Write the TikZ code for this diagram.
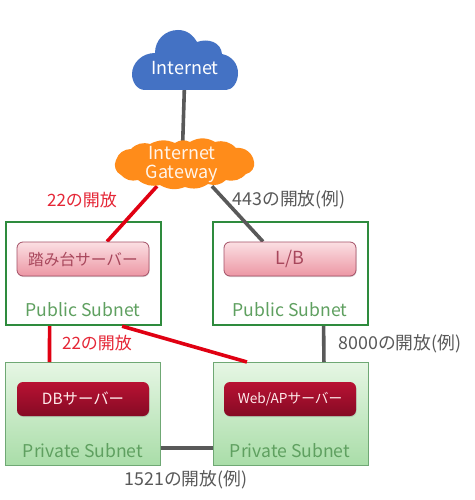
\documentclass[tikz,border=0pt]{standalone}
\usepackage{fontspec}
\setmainfont{Noto Sans CJK JP}
\usetikzlibrary{shadows,calc}
\pgfdeclarelayer{sub}
\pgfdeclarelayer{conn}
\pgfsetlayers{sub,conn,main}
\definecolor{gline}{HTML}{595959}
\definecolor{rline}{HTML}{E00012}
\definecolor{gborder}{HTML}{2E8B3D}
\definecolor{gtext}{HTML}{5FA060}
\definecolor{cloudblue}{HTML}{4472C4}
\definecolor{cloudorange}{HTML}{FF8C1A}
\definecolor{privtop}{HTML}{E6F6E4}
\definecolor{privbot}{HTML}{A9DDA8}
\definecolor{privline}{HTML}{6FA874}
\definecolor{lighttop}{HTML}{FBDFE3}
\definecolor{lightbot}{HTML}{EC97A4}
\definecolor{lightline}{HTML}{A45066}
\definecolor{lighttext}{HTML}{A8475C}
\definecolor{darktop}{HTML}{B81233}
\definecolor{darkbot}{HTML}{860A24}
\tikzset{
  txt/.style={font=\fontsize{#1}{#1}\selectfont,inner sep=0pt,align=center},
  txt/.default=17.6,
  pubnet/.style={draw=gborder,line width=2.2pt,fill=white,minimum width=155pt,minimum height=103pt,inner sep=0pt},
  privnet/.style={draw=privline,line width=.9pt,top color=privtop,bottom color=privbot,minimum width=155pt,minimum height=103pt,inner sep=0pt,drop shadow={shadow xshift=.8pt,shadow yshift=-1pt,opacity=.35}},
  srvlight/.style={draw=lightline,line width=.8pt,rounded corners=6pt,top color=lighttop,bottom color=lightbot,minimum width=132pt,minimum height=34pt,inner sep=0pt,text=lighttext,font=\fontsize{15.7}{16}\selectfont,drop shadow={shadow xshift=.5pt,shadow yshift=-1pt,opacity=.3}},
  srvdark/.style={rounded corners=6pt,top color=darktop,bottom color=darkbot,minimum width=132pt,minimum height=34pt,inner sep=0pt,text=white!92!red,font=\fontsize{15.4}{16}\selectfont,drop shadow={shadow xshift=.5pt,shadow yshift=-1pt,opacity=.3}},
  redconn/.style={draw=rline,line width=3.6pt},
  grayconn/.style={draw=gline,line width=3.6pt},
  redlabel/.style={txt=17,text=rline!85!white},
  graylabel/.style={txt=17.8,text=gline},
  sublabel/.style={txt=17.6,text=gtext},
}
\begin{document}
\begin{tikzpicture}[x=1pt,y=-1pt]
\useasboundingbox (0,0) rectangle (474,500);
\begin{pgfonlayer}{sub}
\fill[white] (0,0) rectangle (474,500);
\node[pubnet,anchor=north west] (pubL) at (4.5,221) {};
\node[pubnet,anchor=north west] (pubR) at (212,221) {};
\node[privnet,anchor=north west] (privL) at (5,362) {};
\node[privnet,anchor=north west] (privR) at (213,362) {};
\end{pgfonlayer}
% clouds
\fill[cloudblue]
 (145,90) .. controls (137,90) and (132,82) .. (132,74)
 .. controls (132,63) and (142,53) .. (155,53)
 .. controls (155,40) and (165,30) .. (178,30)
 .. controls (187,30) and (193,35) .. (197,42)
 .. controls (208,38) and (221,42) .. (222,54)
 .. controls (232,56) and (238,64) .. (238,73)
 .. controls (238,83) and (232,90) .. (226,90) -- cycle;
\node[txt=18,text=white,minimum width=106pt,minimum height=40pt] (inet) at (185,68) {Internet};
\fill[cloudorange]
 (116,160) to[bend left=35] (131,149) to[bend left=30] (150,144) to[bend left=25] (175,143)
 to[bend left=30] (190,142) to[bend left=30] (215,142) to[bend left=30] (236,148)
 to[bend left=45] (254,162) to[bend left=45] (246,174) to[bend left=30] (226,180)
 to[bend left=30] (208,184) to[bend left=25] (185,187) to[bend left=25] (160,185)
 to[bend left=25] (138,180) to[bend left=30] (121,175) to[bend left=45] (116,160) -- cycle;
\node[txt=18,text=white!92!orange,minimum width=132pt,minimum height=46pt] (gw) at (182,165) {Internet\\[1pt]Gateway};
% servers
\node[srvlight] (step) at (83,259) {踏み台サーバー};
\node[srvlight,font=\fontsize{18}{18}\selectfont] (lb) at (290,259) {L/B};
\node[srvdark] (db) at (83,399) {DBサーバー};
\node[srvdark,font=\fontsize{13.7}{14}\selectfont] (web) at (290,399) {Web/APサーバー};
% subnet labels
\node[sublabel] (lblA) at (83,310) {Public Subnet};
\node[sublabel] (lblB) at (290,310) {Public Subnet};
\node[sublabel] (lblC) at (83,451) {Private Subnet};
\node[sublabel] (lblD) at (290,451) {Private Subnet};
% connection labels
\node[redlabel] (t1) at (82,200) {22の開放};
\node[graylabel] (t2) at (289,200) {443の開放(例)};
\node[redlabel] (t3) at (97,343) {22の開放};
\node[graylabel] (t4) at (400,344) {8000の開放(例)};
\node[graylabel] (t5) at (186,480) {1521の開放(例)};
% connectors
\begin{pgfonlayer}{conn}
\draw[grayconn] (inet.center) -- (gw.center);
\draw[redconn] ($(gw.south)+(-25,-2)$) -- ([xshift=24pt]step.north);
\draw[grayconn] ($(gw.south)+(30,-2)$) -- ([xshift=-27pt]lb.north);
\draw[redconn] ([xshift=-33.5pt]pubL.south) -- ([xshift=-33.5pt]privL.north);
\draw[redconn] ([xshift=39pt]pubL.south) -- ([xshift=-44pt]privR.north);
\draw[grayconn] ([xshift=33pt]pubR.south) -- ([xshift=33pt]privR.north);
\draw[grayconn] ($(privL.east)+(0,34)$) -- ($(privR.west)+(0,34)$);
\end{pgfonlayer}
\end{tikzpicture}
\end{document}
